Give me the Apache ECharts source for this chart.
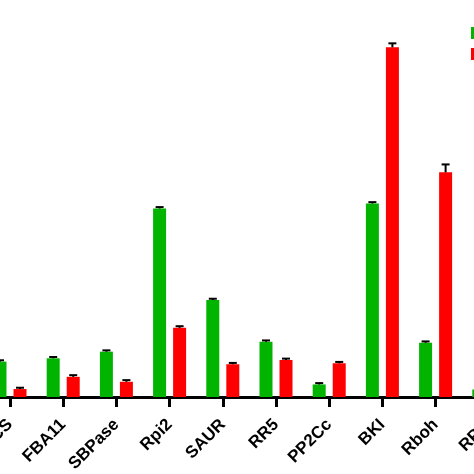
<!DOCTYPE html>
<html>
<head>
<meta charset="utf-8">
<script src="https://cdn.jsdelivr.net/npm/echarts@6/dist/echarts.min.js"></script>
<style>
  html, body { margin: 0; padding: 0; background: #fff; }
  #chart { width: 474px; height: 474px; }
</style>
</head>
<body>
<div id="chart"></div>
<script>
// genes shown along the x axis (figure is cropped at both sides)
const genes = ["CS", "FBA11", "SBPase", "Rpi2", "SAUR", "RR5", "PP2Cc", "BKI", "Rboh", "RPM"];
// relative expression
const greenVals = [1.07, 1.17, 1.37, 5.70, 2.93, 1.67, 0.38, 5.85, 1.64, 0.23];
const redVals   = [0.24, 0.61, 0.46, 2.09, 0.99, 1.12, 1.02, 10.57, 6.79, 0.50];
const greenErr  = [0.04, 0.04, 0.04, 0.04, 0.04, 0.04, 0.04, 0.04, 0.04, 0.04];
const redErr    = [0.04, 0.05, 0.05, 0.05, 0.04, 0.04, 0.04, 0.12, 0.24, 0.04];
const seriesNames = ["Control", "Treatment"];

const GREEN = "#00b400";
const RED = "#ff0000";

const chart = echarts.init(document.getElementById("chart"));

// error bar drawn as a custom series, shifted to sit on its bar
function errorBar(vals, errs, offset) {
  return {
    type: "custom",
    silent: true,
    z: 5,
    data: vals.map((v, i) => [i, v, errs[i]]),
    renderItem: function (params, api) {
      const i = api.value(0);
      const top = api.coord([i, api.value(1) + api.value(2)]);
      const base = api.coord([i, api.value(1)]);
      const x = top[0] + offset;
      return {
        type: "group",
        children: [
          { type: "line", shape: { x1: x, y1: base[1], x2: x, y2: top[1] },
            style: { stroke: "#000", lineWidth: 2 } },
          { type: "line", shape: { x1: x - 4, y1: top[1], x2: x + 4, y2: top[1] },
            style: { stroke: "#000", lineWidth: 2 } }
        ]
      };
    }
  };
}

const option = {
  backgroundColor: "#fff",
  animation: false,
  legend: {
    orient: "vertical",
    left: 471,
    top: 27,
    padding: 0,
    itemWidth: 12,
    itemHeight: 12,
    itemGap: 9,
    icon: "rect",
    data: seriesNames,
    textStyle: { fontFamily: "Liberation Sans", fontWeight: "bold", fontSize: 12, lineHeight: 12 }
  },
  grid: { left: -16.6, right: -41.4, top: 0, bottom: 77, outerBoundsMode: "none", containLabel: false },
  xAxis: {
    type: "category",
    data: genes,
    axisLine: { lineStyle: { color: "#000", width: 3 } },
    axisTick: { show: true, alignWithLabel: true, length: 10, lineStyle: { color: "#000", width: 3 } },
    axisLabel: {
      rotate: 45,
      margin: 25,
      color: "#000",
      fontFamily: "Liberation Sans",
      fontWeight: "bold",
      fontSize: 17
    }
  },
  yAxis: {
    type: "value",
    min: 0,
    max: 12,
    show: false
  },
  series: [
    {
      name: seriesNames[0],
      type: "bar",
      data: greenVals,
      barWidth: 13,
      barGap: "54%",
      itemStyle: { color: GREEN }
    },
    {
      name: seriesNames[1],
      type: "bar",
      data: redVals,
      barWidth: 13,
      barGap: "54%",
      itemStyle: { color: RED }
    },
    errorBar(greenVals, greenErr, -10),
    errorBar(redVals, redErr, 10)
  ]
};

chart.setOption(option);
</script>
</body>
</html>
